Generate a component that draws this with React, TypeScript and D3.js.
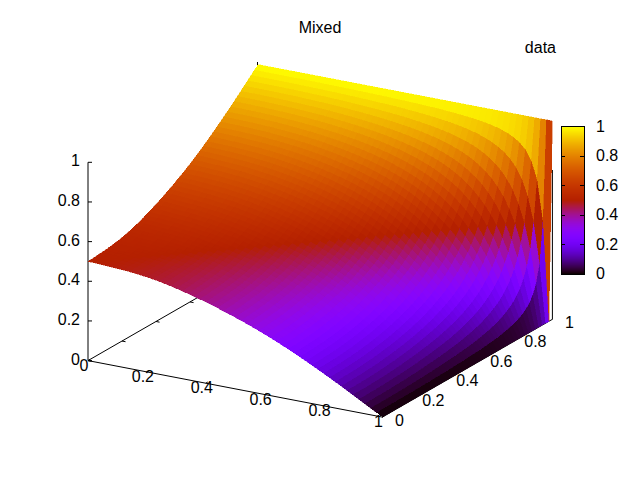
import React from "react";
import * as d3 from "d3";

const title = "Mixed";
const seriesName = "data";
const axisTicks = [0, 0.2, 0.4, 0.6, 0.8, 1];
// The surface is read around its corner at x=1, y=1: distance from that corner (columns) and bearing (rows, 0..1)
const radii = [0, 0.15, 0.3, 0.45, 0.6, 0.75, 0.9, 1.05, 1.2, 1.35, 1.5];
const bearings = [0, 0.1, 0.2, 0.3, 0.4, 0.5, 0.6, 0.7, 0.8, 0.9, 1];
const b00 = [0, 0, 0, 0, 0, 0, 0, 0, 0, 0, 0];
const b01 = [.1, .1, .1, .101, .104, .109, .119, .135, .15, .17, .19];
const b02 = [.2, .2, .2, .202, .206, .214, .23, .255, .285, .32, .35];
const b03 = [.3, .3, .3, .302, .306, .314, .329, .353, .38, .41, .44];
const b04 = [.4, .4, .4, .401, .404, .409, .418, .432, .453, .475, .49];
const b05 = [.5, .5, .5, .5, .5, .5, .5, .5, .5, .5, .5];
const b06 = [.6, .6, .6, .599, .596, .591, .582, .568, .547, .525, .51];
const b07 = [.7, .7, .7, .698, .694, .686, .671, .647, .62, .59, .56];
const b08 = [.8, .8, .8, .798, .794, .786, .77, .745, .715, .68, .65];
const b09 = [.9, .9, .9, .899, .896, .891, .881, .865, .85, .83, .81];
const b10 = [1, 1, 1, 1, 1, 1, 1, 1, 1, 1, 1];
const bearingRows = [b00, b01, b02, b03, b04, b05, b06, b07, b08, b09, b10];

const ORIGIN = [88, 360.6];
const EX = [294.4, 56.5];
const EY = [170, -97.8];
const EZ = -198.3;
const project = (x: number, y: number, z: number) => [
  ORIGIN[0] + x * EX[0] + y * EY[0],
  ORIGIN[1] + x * EX[1] + y * EY[1] + z * EZ,
];

const STEPS = 50;
const radiusIndex = d3.scaleLinear().domain([radii[0], radii[radii.length - 1]]).range([0, radii.length - 1]);
const bearingIndex = d3.scaleLinear().domain([0, 1]).range([0, bearings.length - 1]);
const cr = (a: number, b: number, c: number, d: number, t: number) =>
  0.5 * (2 * b + (c - a) * t + (2 * a - 5 * b + 4 * c - d) * t * t + (3 * b - a - 3 * c + d) * t * t * t);
function cell(j: number, i: number) {
  const ii = Math.max(0, Math.min(radii.length - 1, i));
  if (j < 0) return -bearingRows[-j][ii];
  if (j > 10) return 2 - bearingRows[20 - j][ii];
  return bearingRows[j][ii];
}
function surface(x: number, y: number) {
  if (x === 1 && y === 1) return 1;
  const dx = 1 - x, dy = 1 - y;
  const r = Math.hypot(dx, dy), phi = (2 / Math.PI) * Math.atan2(dx, dy);
  const fr = radiusIndex(r), fp = bearingIndex(phi);
  const i = Math.min(Math.floor(fr), 9), j = Math.min(Math.floor(fp), 9);
  const u = fr - i, v = fp - j;
  const rowAt = (jj: number) => cr(cell(jj, i - 1), cell(jj, i), cell(jj, i + 1), cell(jj, i + 2), u);
  return cr(rowAt(j - 1), rowAt(j), rowAt(j + 1), rowAt(j + 2), v);
}
function palette(g: number) {
  const t = Math.max(0, Math.min(1, g));
  const r = Math.sqrt(t), gr = t * t * t, b = Math.max(0, Math.sin(2 * Math.PI * t));
  return d3.rgb(r * 255, gr * 255, b * 255).formatHex();
}

const cbY = d3.scaleLinear().domain([0, 1]).range([274, 126.7]);
const zY = d3.scaleLinear().domain([0, 1]).range([360.6, 162.3]);
const font = "Liberation Sans, Arial, sans-serif";
const tickLabel = (v: number) => String(v);

export default function App() {
  const fine = d3.range(STEPS + 1).map((k) => k / STEPS);
  const quads: { d: string; c: string }[] = [];
  for (let j = 0; j < STEPS; j++) {
    for (let i = 0; i < STEPS; i++) {
      const cs = [[fine[i], fine[j]], [fine[i + 1], fine[j]], [fine[i + 1], fine[j + 1]], [fine[i], fine[j + 1]]];
      const zs = cs.map(([x, y]) => surface(x, y));
      const pts = cs.map(([x, y], k) => project(x, y, zs[k]));
      quads.push({ d: pts.map((p) => p.join(",")).join(" "), c: palette(d3.mean(zs)!) });
    }
  }
  const cbRows = d3.range(274, 126, -1);
  const txt = { fontFamily: font, fontSize: 16, fill: "#000" } as const;
  return (
    <svg width={640} height={480} style={{ position: "absolute", left: 0, top: 0, background: "#fff" }}>
      <g stroke="#000" strokeWidth={1} fill="none">
        <line x1={ORIGIN[0]} y1={ORIGIN[1]} x2={project(1, 0, 0)[0]} y2={project(1, 0, 0)[1]} />
        <line x1={ORIGIN[0]} y1={ORIGIN[1]} x2={project(0, 1, 0)[0]} y2={project(0, 1, 0)[1]} />
        <line x1={project(1, 0, 0)[0]} y1={project(1, 0, 0)[1]} x2={project(1, 1, 0)[0]} y2={project(1, 1, 0)[1]} />
        <line x1={88} y1={zY(0)} x2={88} y2={zY(1)} />
        <line x1={552.4} y1={319.5} x2={552.4} y2={170} />
        <line x1={257.5} y1={100} x2={257.5} y2={62} />
        {axisTicks.map((t) => {
          const a = project(t, 0, 0), b = project(t, 0.012, 0), c = project(0, t, 0), d = project(0.012, t, 0);
          return (
            <g key={t}>
              <line x1={a[0]} y1={a[1]} x2={b[0]} y2={b[1]} />
              <line x1={c[0]} y1={c[1]} x2={d[0]} y2={d[1]} />
              <line x1={88} y1={zY(t)} x2={92} y2={zY(t)} />
            </g>
          );
        })}
      </g>
      <g shapeRendering="crispEdges">
        {quads.map((q, k) => (
          <polygon key={k} points={q.d} fill={q.c} stroke={q.c} strokeWidth={0.4} />
        ))}
      </g>
      <g shapeRendering="crispEdges">
        {cbRows.map((y) => (
          <rect key={y} x={561} y={y} width={23} height={1} fill={palette(cbY.invert(y + 0.5))} />
        ))}
        <rect x={561} y={126.5} width={23} height={147.5} fill="none" stroke="#000" />
        {axisTicks.slice(1, -1).map((t) => (
          <g key={t} stroke="#000">
            <line x1={561} x2={565} y1={cbY(t)} y2={cbY(t)} />
            <line x1={580} x2={584} y1={cbY(t)} y2={cbY(t)} />
          </g>
        ))}
      </g>
      <text {...txt} x={320} y={33} textAnchor="middle">{title}</text>
      <text {...txt} x={556} y={53} textAnchor="end">{seriesName}</text>
      {axisTicks.map((t) => (
        <text key={"z" + t} {...txt} x={80} y={zY(t) + 4} textAnchor="end">{tickLabel(t)}</text>
      ))}
      {axisTicks.map((t) => {
        const p = project(t, 0, 0);
        return <text key={"x" + t} {...txt} x={p[0] - 4} y={p[1] + 10} textAnchor="middle">{tickLabel(t)}</text>;
      })}
      {axisTicks.map((t) => {
        const p = project(1, t, 0);
        return <text key={"y" + t} {...txt} x={p[0] + 17} y={p[1] + 8.5} textAnchor="middle">{tickLabel(t)}</text>;
      })}
      {axisTicks.map((t) => (
        <text key={"c" + t} {...txt} x={596} y={cbY(t) + 5} textAnchor="start">{tickLabel(t)}</text>
      ))}
    </svg>
  );
}
